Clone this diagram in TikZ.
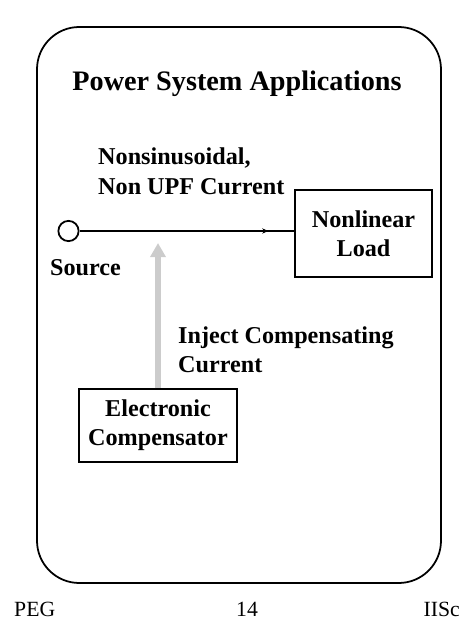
\documentclass[tikz,border=0pt]{standalone}
\usepackage{fontspec}
\setmainfont{Liberation Serif}
\usetikzlibrary{arrows.meta,positioning,decorations.markings}

\tikzset{
  blockbox/.style={rectangle, draw, line width=1pt, align=center, font=\fontsize{13.7}{16.4}\selectfont\bfseries},
  lbl/.style={align=left, font=\fontsize{13.7}{16.4}\selectfont\bfseries},
  foot/.style={font=\fontsize{12.3}{14}\selectfont}
}

\begin{document}
\begin{tikzpicture}[x=0.567pt, y=-0.567pt]
    \useasboundingbox (0,0) rectangle (474,631);
    \draw[line width=1pt, rounded corners=24pt] (37,27) rectangle (441,583);
    \node(title) [font=\fontsize{16}{18}\selectfont\bfseries, anchor=base] at (237,91) {Power System Applications};

    \node(src) [circle, draw, line width=1pt, minimum size=11.5pt, inner sep=0pt] at (68.5,231) {};
    \node(srclbl) [lbl, anchor=base west] at (44,275) {Source};
    \node(load) [blockbox, minimum width=77.7pt, minimum height=49.3pt] at (363.5,233.5) {Nonlinear\\Load};
    % base anchor sits on the last line
    \node(curr) [lbl, anchor=base west, font=\fontsize{13.7}{17}\selectfont\bfseries] at (92,194) {Nonsinusoidal,\\Non UPF Current};

    \node(comp) [blockbox, minimum width=89.6pt, minimum height=41.4pt] at (158,425.5) {Electronic\\Compensator};
    \node(inj) [lbl, anchor=base west, font=\fontsize{13.7}{16}\selectfont\bfseries] at (172,372) {Inject Compensating\\Current};

    \coordinate(tap) at (158,243);
    \draw[line width=0.8pt, postaction={decorate}, decoration={markings, mark=at position 0.88 with {\arrow{Stealth[length=3.5pt,width=3pt]}}}] (src.east) -- (src.east -| load.west);
    \draw[gray!40, line width=3.4pt, -{Triangle[length=8pt,width=8.5pt]}] (comp.north -| tap) -- (tap);

    \node(peg) [foot, anchor=base west] at (8,616) {PEG};
    \node(page) [foot, anchor=base] at (247,616) {14};
    \node(iisc) [foot, anchor=base east] at (466,616) {IISc};
\end{tikzpicture}
\end{document}
